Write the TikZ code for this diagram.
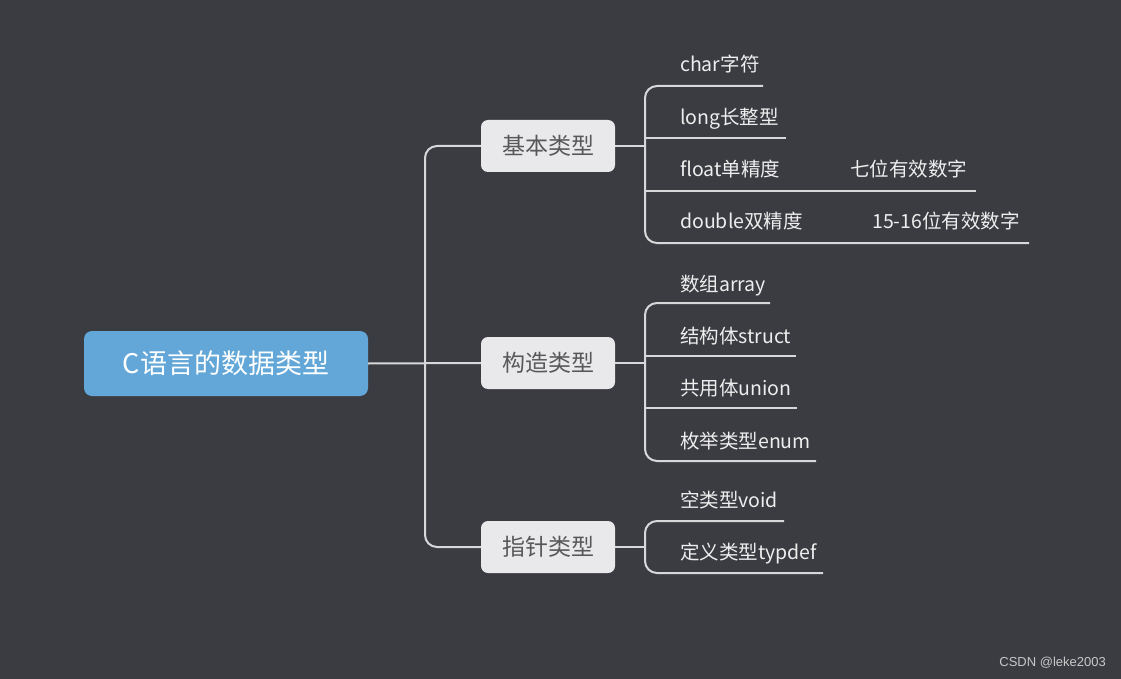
\documentclass[tikz,border=0pt]{standalone}
\usepackage{fontspec}
\setmainfont{Noto Sans CJK SC}
\newfontfamily\cjkf{Noto Sans CJK SC}
\newfontfamily\wmfont{Liberation Sans}
\definecolor{bgc}{RGB}{59,60,66}
\definecolor{rootc}{RGB}{99,167,216}
\definecolor{branchc}{RGB}{233,233,235}
\definecolor{branchtxt}{RGB}{88,88,90}
\definecolor{linec}{RGB}{216,216,218}
\definecolor{leaftxt}{RGB}{238,238,238}
\definecolor{wmc}{RGB}{200,200,200}
\tikzset{
  conn/.style={draw=linec, line width=2pt, rounded corners=12pt},
  uline/.style={draw=linec, line width=2pt},
  leaf/.style={anchor=west, inner sep=0pt, text=leaftxt, font=\cjkf\fontsize{19.5}{22}\selectfont, text height=16pt, text depth=0pt},
  branchbox/.style={rectangle, rounded corners=7pt, fill=branchc, text=branchtxt, minimum width=134pt, minimum height=52pt, inner sep=0pt, font=\cjkf\fontsize{23}{26}\selectfont},
  rootbox/.style={rectangle, rounded corners=8pt, fill=rootc, text=white, minimum width=284pt, minimum height=65pt, inner sep=0pt, font=\cjkf\fontsize{27}{30}\selectfont},
}
\begin{document}
\begin{tikzpicture}[x=1pt,y=-1pt]
\fill[bgc] (0,0) rectangle (1121,679);
\useasboundingbox (0,0) rectangle (1121,679);

% root and branches
\node[rootbox] (root) at (226,363.5) {C语言的数据类型};
\node[branchbox] (b1) at (548,146) {基本类型};
\node[branchbox] (b2) at (548,363) {构造类型};
\node[branchbox] (b3) at (548,547) {指针类型};

\coordinate (j) at (425,363);
\draw[conn] (root.east) -- (b2.west);
\draw[conn] (b1.west) -| (j) |- (b3.west);

% branch 1 leaves
\node[leaf] (l11) at (680,64) {char字符};
\node[leaf] (l12) at (680,117) {long长整型};
\node[leaf] (l13) at (680,169) {float单精度};
\node[leaf] (l13b) at (850,169) {七位有效数字};
\node[leaf] (l14) at (680,221) {double双精度};
\node[leaf] (l14b) at (872,221) {15-16位有效数字};
\coordinate (k1) at (645,146);
\coordinate (e11) at (763,86);
\coordinate (e12) at (786,138);
\coordinate (e13) at (976,191);
\coordinate (e14) at (1029,243);
\draw[conn] (b1.east) -- (k1);
\draw[conn] (e11) -| (k1) |- (e14);
\draw[uline] (k1 |- e12) -- (e12);
\draw[uline] (k1 |- e13) -- (e13);

% branch 2 leaves
\node[leaf] (l21) at (680,283) {数组array};
\node[leaf] (l22) at (680,335) {结构体struct};
\node[leaf] (l23) at (680,387) {共用体union};
\node[leaf] (l24) at (680,440) {枚举类型enum};
\coordinate (k2) at (645,363);
\coordinate (e21) at (770,303);
\coordinate (e22) at (796,356);
\coordinate (e23) at (797,408);
\coordinate (e24) at (816,461);
\draw[conn] (b2.east) -- (k2);
\draw[conn] (e21) -| (k2) |- (e24);
\draw[uline] (k2 |- e22) -- (e22);
\draw[uline] (k2 |- e23) -- (e23);

% branch 3 leaves
\node[leaf] (l31) at (680,499) {空类型void};
\node[leaf] (l32) at (680,551) {定义类型typdef};
\coordinate (k3) at (645,547);
\coordinate (e31) at (784,521);
\coordinate (e32) at (823,573);
\draw[conn] (b3.east) -- (k3);
\draw[conn] (e31) -| (k3) |- (e32);

% watermark
\node[anchor=east, inner sep=0pt, text=wmc, font=\wmfont\fontsize{13}{15}\selectfont] (wm) at (1106,663) {CSDN @leke2003};
\end{tikzpicture}
\end{document}
